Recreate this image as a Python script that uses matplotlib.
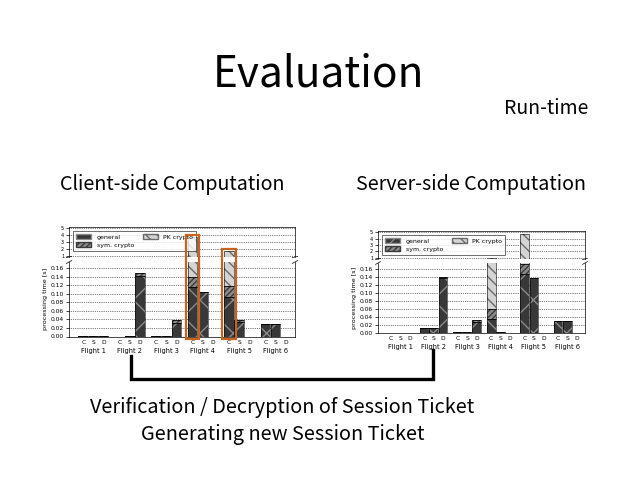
import matplotlib
matplotlib.use("Agg")
import matplotlib.pyplot as plt
from matplotlib.patches import Patch, Rectangle
from matplotlib.lines import Line2D
import numpy as np

flights = ["Flight 1", "Flight 2", "Flight 3", "Flight 4", "Flight 5", "Flight 6"]
parts = ["C", "S", "D"]

# client side: per flight C, S, D
client_general = [0.001, 0.001, 0.001, 0.0, 0.002, 0.141, 0.002, 0.002, 0.031,
                  0.117, 0.105, 0.0, 0.093, 0.035, 0.0, 0.030, 0.030, 0.0]
client_sym = [0, 0, 0, 0, 0, 0.007, 0, 0, 0.007,
              0.023, 0, 0, 0.026, 0.003, 0, 0, 0, 0]
client_pk = [0, 0, 0, 0, 0, 0, 0, 0, 0,
             3.56, 0, 0, 1.63, 0, 0, 0, 0, 0]

# server side
server_general = [0.001, 0.001, 0.001, 0.012, 0.012, 0.137, 0.002, 0.002, 0.028,
                  0.035, 0.002, 0.0, 0.147, 0.138, 0.0, 0.030, 0.030, 0.0]
server_sym = [0, 0, 0, 0, 0, 0.004, 0, 0, 0.005,
              0.025, 0, 0, 0.025, 0, 0, 0, 0, 0]
server_pk = [0, 0, 0, 0, 0, 0, 0, 0, 0,
             0.84, 0, 0, 4.58, 0, 0, 0, 0, 0]

slide_font = ["Noto Sans CJK KR", "DejaVu Sans"]
W, H = 638, 479

fig = plt.figure(figsize=(6.38, 4.79), dpi=100)
fig.patch.set_facecolor("white")


def px(x, y):
    return x / W, 1 - y / H


styles = [
    dict(color="#383838", hatch="x", hc="#8a8a8a", label="general"),
    dict(color="#8c8c8c", hatch="//////", hc="#3a3a3a", label="sym. crypto"),
    dict(color="#d4d4d4", hatch="\\\\\\", hc="#6a6a6a", label="PK crypto"),
]

spacing = 0.28
width = 0.26


def chart(box_top, box_bot, general, sym, pk):
    l, r, t1, b1 = box_top
    ax_top = fig.add_axes([l / W, 1 - b1 / H, (r - l) / W, (b1 - t1) / H])
    t2, b2 = box_bot
    ax_bot = fig.add_axes([l / W, 1 - b2 / H, (r - l) / W, (b2 - t2) / H])

    xs = np.array([g + (j - 1) * spacing for g in range(len(flights)) for j in range(3)])
    layers = [np.array(general), np.array(sym), np.array(pk)]
    for ax in (ax_top, ax_bot):
        bottom = np.zeros(len(xs))
        for vals, st in zip(layers, styles):
            ax.bar(xs, vals, width, bottom=bottom, color=st["color"], hatch=st["hatch"],
                   edgecolor=st["hc"], linewidth=0, zorder=3)
            ax.bar(xs, vals, width, bottom=bottom, fill=False, edgecolor="black",
                   linewidth=0.4, zorder=4)
            bottom = bottom + vals
        ax.set_xlim(-0.67, 5.53)
        ax.grid(axis="y", color="black", linestyle=":", linewidth=0.5, zorder=0)
        ax.tick_params(labelsize=4.3, length=2, width=0.5, pad=1.5)
        for s in ax.spines.values():
            s.set_linewidth(0.5)

    ax_top.set_ylim(0.8, 5.2)
    ax_top.set_yticks([1, 2, 3, 4, 5])
    ax_top.tick_params(axis="y", labelsize=3.6)
    ax_top.set_xticks([])
    ax_top.spines["bottom"].set_visible(False)

    ax_bot.set_ylim(0, 0.175)
    ax_bot.set_yticks(np.arange(0, 0.161, 0.02))
    ax_bot.yaxis.set_major_formatter(plt.FormatStrFormatter("%.2f"))
    ax_bot.spines["top"].set_visible(False)
    ax_bot.set_xticks(xs)
    ax_bot.set_xticklabels(parts * len(flights))
    ax_bot.tick_params(axis="x", length=0, pad=2.5)
    for g, name in enumerate(flights):
        ax_bot.annotate(name, xy=(g, 0), xycoords=ax_bot.get_xaxis_transform(),
                        xytext=(0, -8), textcoords="offset points",
                        ha="center", va="top", fontsize=4.8)
    ax_bot.set_ylabel("processing time [s]", fontsize=4.6, labelpad=2)

    # break marks
    d = 0.012
    for ax, yy in ((ax_top, 0), (ax_bot, 1)):
        kw = dict(transform=ax.transAxes, color="k", clip_on=False, lw=0.5)
        ax.plot((-d, d), (yy - 0.02, yy + 0.02), **kw)
        ax.plot((1 - d, 1 + d), (yy - 0.02, yy + 0.02), **kw)

    handles = [Patch(facecolor=st["color"], hatch=st["hatch"], edgecolor=st["hc"],
                     label=st["label"]) for st in styles]
    leg = ax_top.legend(handles=handles, ncol=2, loc="upper left",
                        bbox_to_anchor=(0.005, 0.97), fontsize=4.5, frameon=True,
                        fancybox=False, borderpad=0.45, handlelength=2.4,
                        handleheight=0.9, columnspacing=1.4, labelspacing=0.4,
                        handletextpad=0.9)
    leg.get_frame().set_edgecolor("black")
    leg.get_frame().set_linewidth(0.5)
    leg.set_zorder(10)
    return ax_top, ax_bot, xs, layers


def highlight(ax_top, ax_bot, x, total):
    inv = fig.transFigure.inverted()
    x0, y0 = ax_bot.transData.transform((x - width / 2, 0))
    x1, y1 = ax_top.transData.transform((x + width / 2, total))
    pad = 2
    (fx0, fy0) = inv.transform((x0 - pad, y0 - pad))
    (fx1, fy1) = inv.transform((x1 + pad, y1 + pad))
    fig.add_artist(Rectangle((fx0, fy0), fx1 - fx0, fy1 - fy0, fill=False,
                             edgecolor="#c8621c", linewidth=1.6,
                             transform=fig.transFigure, zorder=20))


lt, lb, lxs, llayers = chart((69, 295, 227, 257), (262, 336.5),
                             client_general, client_sym, client_pk)
rt, rb, rxs, rlayers = chart((378, 585, 231, 259), (263, 333),
                             server_general, server_sym, server_pk)

totals = llayers[0] + llayers[1] + llayers[2]
for i in np.nonzero(llayers[2])[0]:
    highlight(lt, lb, lxs[i], totals[i])

# slide text
fig.text(*px(318.5, 86.7), "Evaluation", ha="center", va="baseline",
         fontsize=30.5, family=slide_font)
fig.text(*px(588, 114), "Run-time", ha="right", va="baseline",
         fontsize=14, family=slide_font)
fig.text(*px(172.5, 190.5), "Client-side Computation", ha="center", va="baseline",
         fontsize=14.2, family=slide_font)
fig.text(*px(471.5, 190.5), "Server-side Computation", ha="center", va="baseline",
         fontsize=14.2, family=slide_font)
fig.text(*px(282.5, 413.3), "Verification / Decryption of Session Ticket",
         ha="center", va="baseline", fontsize=14.3, family=slide_font)
fig.text(*px(282.5, 440), "Generating new Session Ticket",
         ha="center", va="baseline", fontsize=14.3, family=slide_font)

# connecting bracket
bx = [130.7, 130.7, 433, 433]
by = [356, 378.5, 378.5, 350]
fig.add_artist(Line2D([v / W for v in bx], [1 - v / H for v in by], color="black",
                      linewidth=2.4, solid_joinstyle="miter",
                      transform=fig.transFigure))

fig.savefig("out.png", dpi=100)
